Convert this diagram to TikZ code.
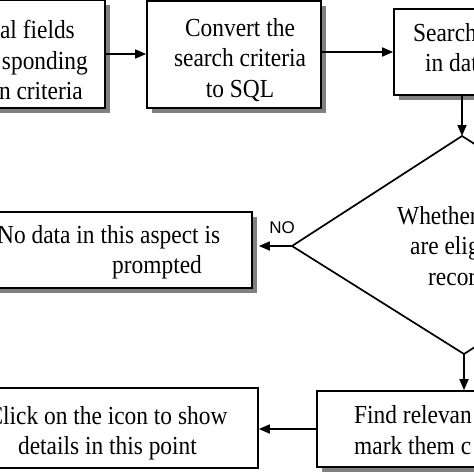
\documentclass[tikz,border=0pt]{standalone}
\usepackage{fontspec}
\setmainfont{Liberation Serif}[FakeStretch=0.9]
\newfontfamily\sansfnt{Liberation Sans}
\usetikzlibrary{arrows.meta,shadows,calc}
\definecolor{shadowgray}{RGB}{128,128,128}
\begin{document}
\begin{tikzpicture}[x=1pt,y=-1pt,
  box/.style={draw=black, line width=1.7pt, fill=white, inner sep=0pt, rectangle},
  shadowed/.style={general shadow={fill=shadowgray, shadow xshift=5pt, shadow yshift=-5pt}},
  txt/.style={font=\fontsize{26}{30.5}\selectfont, inner sep=0pt},
  arr/.style={line width=1.7pt, -{Triangle[length=11pt,width=9pt]}},
  lbl/.style={font=\sansfnt\fontsize{17}{17}\selectfont, inner sep=0pt},
]
\useasboundingbox (0,0) rectangle (474,474);
\clip (0,0) rectangle (474,474);

% boxes
\node[box,shadowed,minimum width=205pt,minimum height=108pt] (b1) at (2.5,54) {};
\node[box,shadowed,minimum width=174pt,minimum height=107pt] (b2) at (234,54.5) {};
\node[box,shadowed,minimum width=206pt,minimum height=86pt] (b3) at (497,52) {};
\node[box,shadowed,minimum width=312pt,minimum height=76pt] (nd) at (96,250) {};
\node[box,shadowed,minimum width=283pt,minimum height=76pt] (fr) at (458.5,429) {};
\node[box,minimum width=358pt,minimum height=80pt] (cl) at (79,428) {};

% decision
\coordinate (dt) at (462,136);
\coordinate (dl) at (292,246);
\coordinate (db) at (464,354);
\coordinate (dr) at (634,245);
\draw[line width=1.7pt] (dt) -- (dl) -- (db) -- (dr) -- cycle;

% texts
\node[txt,align=right,anchor=east] (t1) at (88,60)
  {al fields\hspace*{13pt}\\sponding\\n criteria\hspace*{5pt}};
\node[txt,align=center] (t2) at (240,60) {Convert the\\search criteria\\to SQL};
\node[txt,align=left,anchor=west] (t3) at (413,47.5) {Search\\\hspace*{12pt}in dat};
\node[txt,align=left,anchor=west] (td) at (397,246)
  {Whether\\\hspace*{13pt}are elig\\\hspace*{31pt}recor};
\node[txt,align=left,anchor=west] (tn) at (-3,252)
  {No data in this aspect is\\\hspace*{115pt}prompted};
\node[txt,align=left,anchor=west] (tf) at (354,430) {Find relevan\\mark them c};
\node[txt,align=center] (tc) at (107.5,433) {Click on the icon to show\\details in this point};
\node[lbl] (no) at (282,228) {NO};

% connectors
\draw[arr] (b1.east) -- (b1.east -| b2.west);
\draw[arr] (b2.east |- b3.west) -- (b3.west);
\draw[arr] (dt |- b3.south) -- (dt);
\coordinate (noend) at (dl -| nd.east);
\draw[arr] (dl) -- ($(noend)+(6,0)$);
\draw[arr] (db) -- (db |- fr.north);
\draw[arr] (fr.west) -- (fr.west -| cl.east);
\end{tikzpicture}
\end{document}
